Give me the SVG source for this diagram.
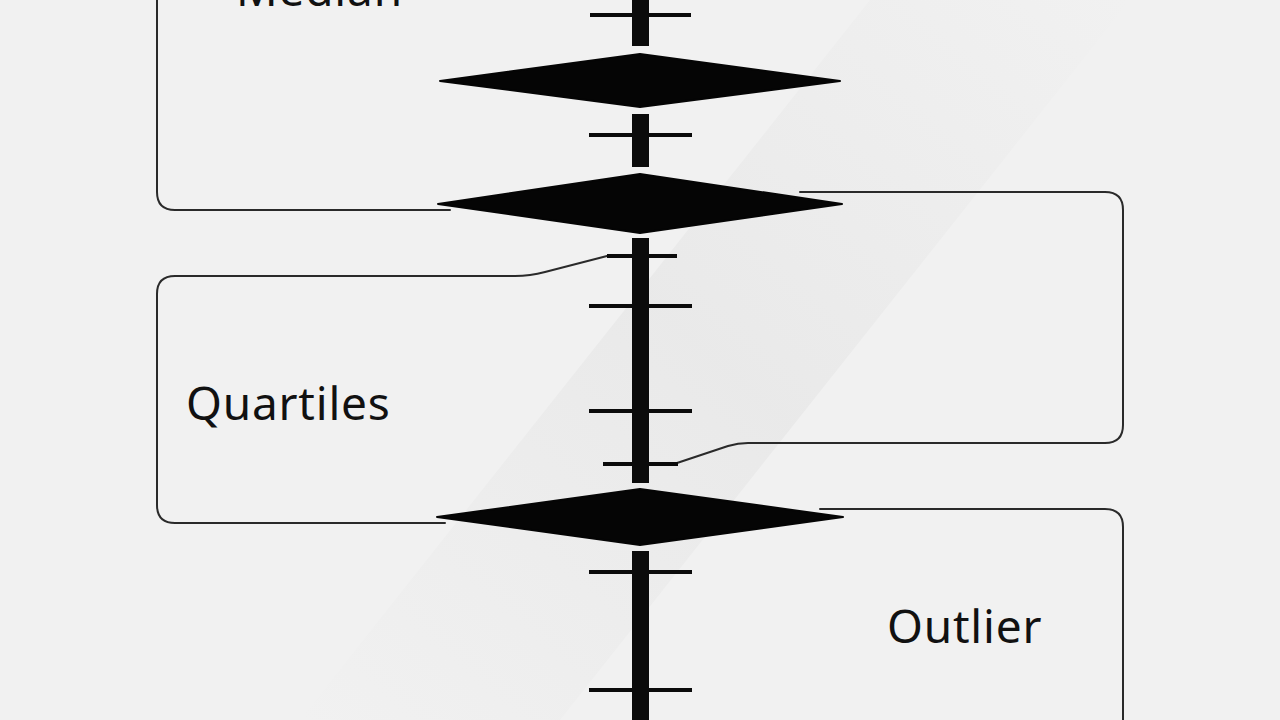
<svg xmlns="http://www.w3.org/2000/svg" width="1280" height="720" viewBox="0 0 1280 720">
  <defs>
    <linearGradient id="bandGrad" x1="0" y1="1" x2="1" y2="0">
      <stop offset="0" stop-color="#e6e6e6" stop-opacity="0"/>
      <stop offset="0.5" stop-color="#e6e6e6" stop-opacity="0.7"/>
      <stop offset="1" stop-color="#e6e6e6" stop-opacity="0"/>
    </linearGradient>
  </defs>
  <style>
    .bar { fill: #0b0b0b; }
    .tick { stroke: #0b0b0b; stroke-width: 4; fill: none; }
    .dia { fill: #050505; stroke: #050505; stroke-width: 2; stroke-linejoin: round; }
    .conn { fill: none; stroke: #2a2a2a; stroke-width: 2; stroke-linecap: round; stroke-linejoin: round; }
    .label { font-family: "Noto Sans", "Open Sans", "DejaVu Sans", sans-serif; font-size: 46px; fill: #111; letter-spacing: 0.8px; }
  </style>

  <rect width="1280" height="720" fill="#f1f1f1"/>
  <polygon points="870,0 1130,0 560,720 300,720" fill="url(#bandGrad)"/>

  <g id="connectors">
    <path class="conn" d="M157,0 L157,192 Q157,210 175,210 L450,210"/>
    <path class="conn" d="M607,256 L545,272 Q530,276 515,276 L175,276 Q157,276 157,294 L157,505 Q157,523 175,523 L445,523"/>
    <path class="conn" d="M800,192 L1105,192 Q1123,192 1123,210 L1123,425 Q1123,443 1105,443 L748,443 Q738,443 728,446 L677,463"/>
    <path class="conn" d="M820,509 L1105,509 Q1123,509 1123,527 L1123,720"/>
  </g>

  <g id="axis">
    <rect class="bar" x="632" y="0" width="17" height="46"/>
    <rect class="bar" x="632" y="114" width="17" height="53"/>
    <rect class="bar" x="632" y="238" width="17" height="245"/>
    <rect class="bar" x="632" y="551" width="17" height="169"/>
    <line class="tick" x1="590" y1="15" x2="691" y2="15"/>
    <line class="tick" x1="589" y1="135" x2="692" y2="135"/>
    <line class="tick" x1="607" y1="256" x2="677" y2="256"/>
    <line class="tick" x1="589" y1="306" x2="692" y2="306"/>
    <line class="tick" x1="589" y1="411" x2="692" y2="411"/>
    <line class="tick" x1="603" y1="464" x2="678" y2="464"/>
    <line class="tick" x1="589" y1="572" x2="692" y2="572"/>
    <line class="tick" x1="589" y1="690" x2="692" y2="690"/>
  </g>

  <g id="diamond-1">
    <polygon class="dia" points="640,54 840,81 640,107 440,81"/>
  </g>
  <g id="diamond-2">
    <polygon class="dia" points="640,174 842,204 640,233 438,204"/>
  </g>
  <g id="diamond-3">
    <polygon class="dia" points="640,489 843,517 640,545 437,517"/>
  </g>

  <g id="median">
    <text class="label" x="236" y="6">Median</text>
  </g>
  <g id="quartiles">
    <text class="label" x="186" y="420">Quartiles</text>
  </g>
  <g id="outlier">
    <text class="label" x="887" y="643">Outlier</text>
  </g>
</svg>
